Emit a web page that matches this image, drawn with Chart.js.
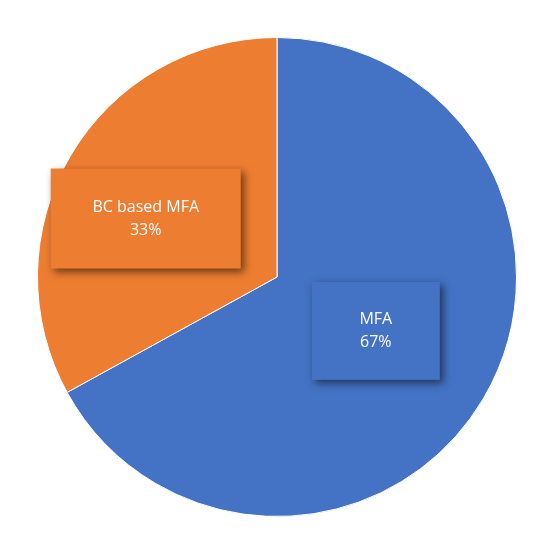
<!DOCTYPE html>
<html><head><meta charset="utf-8">
<script src="https://cdn.jsdelivr.net/npm/chart.js@4/dist/chart.umd.min.js"></script>
<style>html,body{margin:0;padding:0;background:#fff}#w{width:550px;height:547px}</style>
</head><body><div id="w"><canvas id="c"></canvas></div>
<script>
const categories = ["MFA", "BC based MFA"];
const values = [67, 33];
const colors = ["#4472C4", "#ED7D31"];

const labelBoxes = {
  id: 'labelBoxes',
  afterDatasetsDraw(chart, args, opts) {
    const ctx = chart.ctx;
    const meta = chart.getDatasetMeta(0);
    const total = values.reduce((a, b) => a + b, 0);
    meta.data.forEach((arc, i) => {
      const mid = (arc.startAngle + arc.endAngle) / 2 + opts.angleAdj[i];
      const r = arc.outerRadius * opts.frac[i];
      const cx = arc.x + Math.cos(mid) * r;
      const cy = arc.y + Math.sin(mid) * r;
      const w = opts.w[i], h = opts.h[i];
      ctx.save();
      ctx.shadowColor = 'rgba(0,0,0,0.55)';
      ctx.shadowBlur = 8;
      ctx.shadowOffsetX = 3;
      ctx.shadowOffsetY = 3;
      ctx.fillStyle = colors[i];
      ctx.fillRect(cx - w / 2, cy - h / 2, w, h);
      ctx.restore();
      ctx.save();
      ctx.fillStyle = '#fff';
      ctx.font = '16px "Open Sans", sans-serif';
      ctx.textAlign = 'center';
      ctx.textBaseline = 'middle';
      ctx.fillText(categories[i], cx, cy - 11);
      ctx.fillText(Math.round(values[i] / total * 100) + '%', cx, cy + 12);
      ctx.restore();
    });
  }
};

new Chart(document.getElementById('c'), {
  type: 'pie',
  data: { labels: categories, datasets: [{ data: values, backgroundColor: colors, borderColor: '#fff', borderWidth: 1 }] },
  options: {
    responsive: true, maintainAspectRatio: false, animation: false,
    layout: { padding: { left: 37, right: 33, top: 37, bottom: 30 } },
    plugins: {
      legend: { display: false }, tooltip: { enabled: false },
      labelBoxes: { frac: [0.47, 0.6], angleAdj: [-0.035, -0.115], w: [128, 190], h: [98, 100] }
    }
  },
  plugins: [labelBoxes]
});
</script></body></html>
